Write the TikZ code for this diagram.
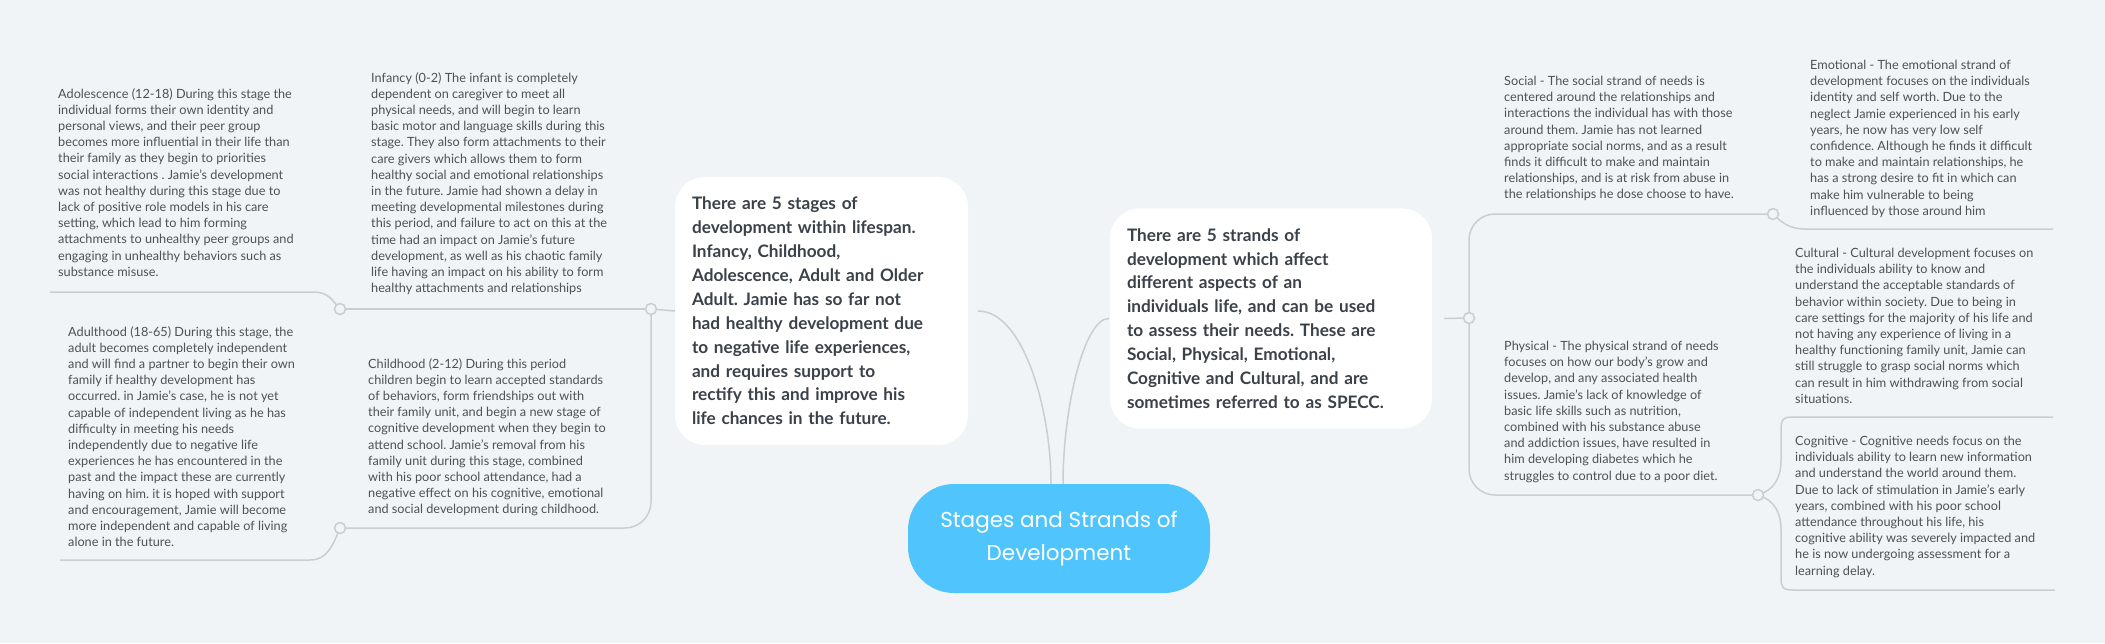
\documentclass[tikz,border=0pt]{standalone}
\usepackage{fontspec}
\setmainfont{Lato}
\newfontfamily\titlefont{Poppins}
\frenchspacing
\definecolor{bgc}{HTML}{F0F4F7}
\definecolor{linkc}{HTML}{C9CED3}
\definecolor{txtc}{HTML}{4D5258}
\definecolor{headc}{HTML}{3A4149}
\definecolor{rootc}{HTML}{50C4FC}
\tikzset{link/.style={linkc, line width=1.5pt},
  joint/.style={circle, draw=linkc, fill=bgc, line width=1.5pt, minimum size=11pt, inner sep=0pt},
  leaf/.style={anchor=north west, inner sep=0pt, align=left, text=txtc, font=\fontsize{12.7}{16.2}\selectfont},
  topic/.style={fill=white, rounded corners=30pt, inner xsep=17pt, inner ysep=20pt, align=left, text=headc, font=\bfseries\fontsize{17.2}{23.9}\selectfont},
  root/.style={fill=rootc, rounded corners=46pt, minimum width=302pt, minimum height=109pt, align=center, text=white, font=\titlefont\fontsize{21.5}{33}\selectfont}}

\begin{document}
\begin{tikzpicture}[x=1pt,y=-1pt]
  \fill[bgc] (0,0) rectangle (2105,643);
  \useasboundingbox (0,0) rectangle (2105,643);

  \node[root] (cen) at (1059,538.5) {Stages and Strands of\\Development};
  \node[topic, text width=259pt] (stages) at (821.5,311) {There are 5 stages of\\development within lifespan.\\Infancy, Childhood,\\Adolescence, Adult and Older\\Adult. Jamie has so far not\\had healthy development due\\to negative life experiences,\\and requires support to\\rectify this and improve his\\life chances in the future.};
  \node[topic, text width=288pt] (strands) at (1271,318.5) {There are 5 strands of\\development which affect\\different aspects of an\\individuals life, and can be used\\to assess their needs. These are\\Social, Physical, Emotional,\\Cognitive and Cultural, and are\\sometimes referred to as SPECC.};

  \node[leaf] (adol) at (58,88) {Adolescence (12-18) During this stage the\\individual forms their own identity and\\personal views, and their peer group\\becomes more influential in their life than\\their family as they begin to priorities\\social interactions . Jamie's development\\was not healthy during this stage due to\\lack of positive role models in his care\\setting, which lead to him forming\\attachments to unhealthy peer groups and\\engaging in unhealthy behaviors such as\\substance misuse.};
  \node[leaf] (inf) at (371,72) {Infancy (0-2) The infant is completely\\dependent on caregiver to meet all\\physical needs, and will begin to learn\\basic motor and language skills during this\\stage. They also form attachments to their\\care givers which allows them to form\\healthy social and emotional relationships\\in the future. Jamie had shown a delay in\\meeting developmental milestones during\\this period, and failure to act on this at the\\time had an impact on Jamie's future\\development, as well as his chaotic family\\life having an impact on his ability to form\\healthy attachments and relationships};
  \node[leaf] (adult) at (68,326) {Adulthood (18-65) During this stage, the\\adult becomes completely independent\\and will find a partner to begin their own\\family if healthy development has\\occurred. in Jamie's case, he is not yet\\capable of independent living as he has\\difficulty in meeting his needs\\independently due to negative life\\experiences he has encountered in the\\past and the impact these are currently\\having on him. it is hoped with support\\and encouragement, Jamie will become\\more independent and capable of living\\alone in the future.};
  \node[leaf] (child) at (368,358) {Childhood (2-12) During this period\\children begin to learn accepted standards\\of behaviors, form friendships out with\\their family unit, and begin a new stage of\\cognitive development when they begin to\\attend school. Jamie's removal from his\\family unit during this stage, combined\\with his poor school attendance, had a\\negative effect on his cognitive, emotional\\and social development during childhood.};

  \node[leaf] (soc) at (1504,76) {Social - The social strand of needs is\\centered around the relationships and\\interactions the individual has with those\\around them. Jamie has not learned\\appropriate social norms, and as a result\\finds it difficult to make and maintain\\relationships, and is at risk from abuse in\\the relationships he dose choose to have.};
  \node[leaf] (emo) at (1810,60) {Emotional - The emotional strand of\\development focuses on the individuals\\identity and self worth. Due to the\\neglect Jamie experienced in his early\\years, he now has very low self\\confidence. Although he finds it difficult\\to make and maintain relationships, he\\has a strong desire to fit in which can\\make him vulnerable to being\\influenced by those around him};
  \node[leaf] (cult) at (1795,248) {Cultural - Cultural development focuses on\\the individuals ability to know and\\understand the acceptable standards of\\behavior within society. Due to being in\\care settings for the majority of his life and\\not having any experience of living in a\\healthy functioning family unit, Jamie can\\still struggle to grasp social norms which\\can result in him withdrawing from social\\situations.};
  \node[leaf] (phys) at (1504,341) {Physical - The physical strand of needs\\focuses on how our body's grow and\\develop, and any associated health\\issues. Jamie's lack of knowledge of\\basic life skills such as nutrition,\\combined with his substance abuse\\and addiction issues, have resulted in\\him developing diabetes which he\\struggles to control due to a poor diet.};
  \node[leaf] (cog) at (1795,436) {Cognitive - Cognitive needs focus on the\\individuals ability to learn new information\\and understand the world around them.\\Due to lack of stimulation in Jamie's early\\years, combined with his poor school\\attendance throughout his life, his\\cognitive ability was severely impacted and\\he is now undergoing assessment for a\\learning delay.};

  \coordinate (jS)  at (651,309);
  \coordinate (jI)  at (340,309);
  \coordinate (jC)  at (340,528);
  \coordinate (jT)  at (1469,318);
  \coordinate (jSo) at (1773,214);
  \coordinate (jP)  at (1758,495);

  \draw[link] ([xshift=10pt]stages.east) .. controls +(45,0) and +(0,-75) .. ([xshift=-8pt]cen.north);
  \draw[link] ([xshift=-1pt]strands.west) .. controls +(-25,0) and +(0,-75) .. ([xshift=4pt]cen.north);

  \draw[link] (stages.west) -- (jS);
  \draw[link] (jS) -- (jI);
  \draw[link] (jI) .. controls (332,300) and (328,292) .. (314,292) -- (50,292);
  \draw[link, rounded corners=26pt] (jS) |- (jC);
  \draw[link] (jC) .. controls (332,548) and (326,560) .. (310,560) -- (60,560);

  \draw[link] ([xshift=12pt]strands.east) -- (jT);
  \draw[link, rounded corners=26pt] (jT) |- (jSo);
  \draw[link, rounded corners=26pt] (jT) |- (jP);
  \draw[link] (jSo) .. controls (1782,223) and (1790,229) .. (1805,229) -- (2053,229);
  \draw[link] (jP) .. controls (1774,490) and (1781,478) .. (1781,460) -- (1781,430)
    .. controls (1781,419) and (1783,417) .. (1794,417) -- (2053,417);
  \draw[link] (jP) .. controls (1774,500) and (1781,512) .. (1781,530) -- (1781,578)
    .. controls (1781,588) and (1783,590) .. (1794,590) -- (2055,590);

  \foreach \j in {jS,jI,jC,jT,jSo,jP}
    \node[joint] (c\j) at (\j) {};
\end{tikzpicture}
\end{document}
